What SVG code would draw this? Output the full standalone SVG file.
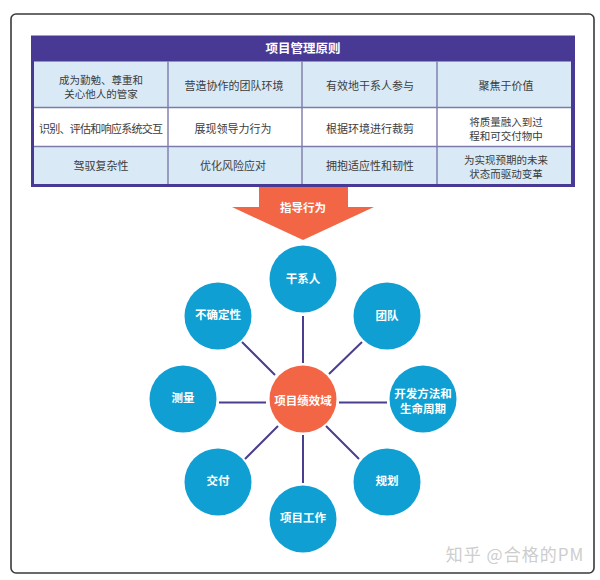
<svg xmlns="http://www.w3.org/2000/svg" width="600" height="580" viewBox="0 0 600 580">
<style>
text{font-family:"Noto Sans CJK SC","Liberation Sans",sans-serif;text-anchor:middle}
.c{font-size:11px;fill:#3c3c3c}
.d{font-size:10.500px;fill:#3c3c3c}
.w{font-size:11.5px;font-weight:700;fill:#fff}
.b{fill:#0f9fd3}
.l{stroke:#4a3f8f;stroke-width:2;fill:none}
.g{stroke:#7d7bab;stroke-width:1.4;fill:none}
</style>
<rect width="600" height="580" fill="#fff"/>
<rect x="11" y="14" width="583" height="559" rx="5" fill="#fff" stroke="#3a3a3a" stroke-width="1.6"/>
<g id="principles">
<rect x="31" y="35.500" width="544" height="151.500" fill="#483a94"/>
<rect x="34" y="61.500" width="537" height="46" fill="#d9eaf6"/>
<rect x="34" y="108" width="537" height="38.500" fill="#fff"/>
<rect x="34" y="147" width="537" height="37" fill="#d9eaf6"/>
<path class="g" d="M34 107.500H571M34 146.500H571M168 61.500V184M302 61.500V184M437 61.500V184"/>
<text x="303" y="53" font-size="12.500" font-weight="700" fill="#fff">项目管理原则</text>
<text class="d"><tspan x="101" y="84">成为勤勉、尊重和</tspan><tspan x="101" y="98">关心他人的管家</tspan></text>
<text class="c" x="234" y="90">营造协作的团队环境</text>
<text class="c" x="370" y="90">有效地干系人参与</text>
<text class="c" x="506" y="90">聚焦于价值</text>
<text class="c" x="101" y="133" textLength="124" lengthAdjust="spacing">识别、评估和响应系统交互</text>
<text class="c" x="233" y="133">展现领导力行为</text>
<text class="c" x="370" y="133">根据环境进行裁剪</text>
<text class="d"><tspan x="506" y="126">将质量融入到过</tspan><tspan x="506" y="140">程和可交付物中</tspan></text>
<text class="c" x="101" y="170">驾驭复杂性</text>
<text class="c" x="233" y="170">优化风险应对</text>
<text class="c" x="370" y="170">拥抱适应性和韧性</text>
<text class="d"><tspan x="506" y="164">为实现预期的未来</tspan><tspan x="506" y="178">状态而驱动变革</tspan></text>
</g>
<g id="arrow">
<polygon points="259,187 348,187 348,207 374,207 303,240 232,207 259,207" fill="#f26645"/>
<text class="w" x="303" y="212">指导行为</text>
</g>
<g id="connectors">
<path class="l" d="M303 316V363M303 435V483M219 402.500H266M339 402.500H387M242 342L275 375M362 342L329 374M326 426L359 459M278 426L245 459"/>
</g>
<g id="n-center"><circle cx="303" cy="399" r="33.500" fill="#f26645"/><text class="w" x="303" y="405">项目绩效域</text></g>
<g id="n-stakeholders"><circle class="b" cx="303" cy="279" r="33.500"/><text class="w" x="303" y="283">干系人</text></g>
<g id="n-team"><circle class="b" cx="387" cy="316" r="33.500"/><text class="w" x="387" y="320">团队</text></g>
<g id="n-lifecycle"><circle class="b" cx="423" cy="399" r="33.500"/><text class="w"><tspan x="423" y="398">开发方法和</tspan><tspan x="423" y="413">生命周期</tspan></text></g>
<g id="n-planning"><circle class="b" cx="387" cy="482" r="33.500"/><text class="w" x="387" y="485">规划</text></g>
<g id="n-work"><circle class="b" cx="303" cy="519" r="33.500"/><text class="w" x="303" y="522">项目工作</text></g>
<g id="n-delivery"><circle class="b" cx="218" cy="482" r="33.500"/><text class="w" x="218" y="485">交付</text></g>
<g id="n-measure"><circle class="b" cx="183" cy="399" r="33.500"/><text class="w" x="183" y="402">测量</text></g>
<g id="n-uncertainty"><circle class="b" cx="218" cy="316" r="33.500"/><text class="w" x="218" y="319">不确定性</text></g>
<text x="515" y="561" font-size="17" letter-spacing="1" fill="#cdcdcd">知乎 @合格的PM</text>
</svg>
